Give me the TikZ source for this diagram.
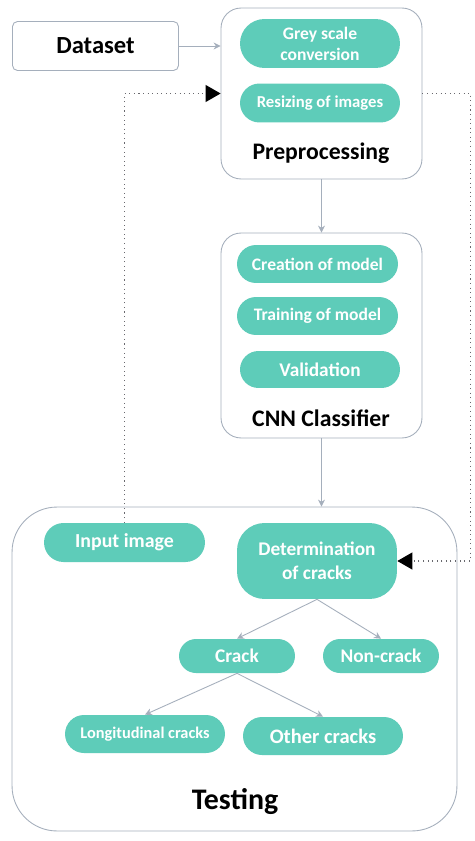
\documentclass[tikz,border=0pt]{standalone}
\usepackage{fontspec}
\setmainfont{Carlito}
\usetikzlibrary{shapes.misc,arrows.meta}
\definecolor{pillteal}{RGB}{94,204,185}
\definecolor{framegrey}{RGB}{165,175,188}
\definecolor{loopgrey}{RGB}{105,105,110}
\begin{document}
\begin{tikzpicture}[x=0.02cm,y=-0.02cm,
  frame/.style={draw=framegrey,line width=0.5pt,fill=white},
  pill/.style={rounded rectangle,fill=pillteal,text=white,align=center,inner sep=0pt,font=\bfseries\fontsize{10}{12}\selectfont},
  title/.style={font=\bfseries\fontsize{13.5}{16}\selectfont},
  link/.style={draw=framegrey,line width=0.5pt,-{Stealth[length=1.4mm,width=1.4mm]}},
  loopback/.style={draw=loopgrey,line width=0.6pt,dotted,-{Triangle[length=0.3cm,width=0.34cm,color=black]}}]

\useasboundingbox (0,0) rectangle (474,841);

\node[frame,rounded corners=0.1cm,minimum width=3.32cm,minimum height=0.98cm,font=\bfseries\fontsize{14}{16}\selectfont] (dataset) at (95.5,46) {Dataset};
\node[frame,rounded corners=0.4cm,minimum width=4.02cm,minimum height=3.42cm] (prep) at (321.5,93.5) {};
\node[frame,rounded corners=0.4cm,minimum width=4.02cm,minimum height=4.1cm] (cnn) at (321.5,335.5) {};
\node[frame,rounded corners=0.9cm,minimum width=8.9cm,minimum height=6.48cm] (testing) at (234.5,669) {};

\node[pill,minimum width=3.2cm,minimum height=0.98cm] (grey) at (320,43.5) {Grey scale\\conversion};
\node[pill,minimum width=3.2cm,minimum height=0.78cm,font=\bfseries\fontsize{9.5}{11}\selectfont] (resize) at (320,103) {Resizing of images};
\node[title] (preptitle) at (321,153) {Preprocessing};

\node[pill,minimum width=3.22cm,minimum height=0.76cm] (creation) at (317.5,264) {Creation of model};
\node[pill,minimum width=3.22cm,minimum height=0.76cm] (training) at (317.5,316) {Training of model};
\node[pill,minimum width=3.2cm,minimum height=0.74cm,font=\bfseries\fontsize{11}{13}\selectfont] (validation) at (320,369.5) {Validation};
\node[title] (cnntitle) at (321,418) {CNN Classifier};

\node[pill,minimum width=3.22cm,minimum height=0.78cm,font=\bfseries\fontsize{11.3}{13}\selectfont] (input) at (124.5,542.5) {Input image};
\node[pill,rectangle,rounded corners=0.55cm,minimum width=3.2cm,minimum height=1.52cm,font=\bfseries\fontsize{11}{13.5}\selectfont] (determ) at (317,561) {Determination\\of cracks};
\node[pill,minimum width=2.32cm,minimum height=0.68cm,font=\bfseries\fontsize{11}{13}\selectfont] (crack) at (237,656) {Crack};
\node[pill,minimum width=2.32cm,minimum height=0.68cm,font=\bfseries\fontsize{11}{13}\selectfont] (noncrack) at (381,656) {Non-crack};
\node[pill,minimum width=3.2cm,minimum height=0.76cm,font=\bfseries\fontsize{9.3}{11}\selectfont] (longit) at (145,734) {Longitudinal cracks};
\node[pill,minimum width=3.2cm,minimum height=0.76cm,font=\bfseries\fontsize{11.7}{14}\selectfont] (other) at (323,736) {Other cracks};
\node[title,font=\bfseries\fontsize{17}{20}\selectfont] (testtitle) at (235,802) {Testing};

\draw[link] (dataset.east) -- (dataset.east -| prep.west);
\draw[link] (prep) -- (cnn);
\draw[link] (cnn.south) -- (cnn.south |- testing.north);
\draw[link] (determ.south) -- (crack.north);
\draw[link] (determ.south) -- (noncrack.north);
\draw[link] (crack.south) -- (longit.north);
\draw[link] (crack.south) -- (other.north);
\draw[loopback] (input.north) |- (prep.west);
\draw[loopback] (prep.east) -- ++(48,0) |- (determ.east);
\end{tikzpicture}
\end{document}
